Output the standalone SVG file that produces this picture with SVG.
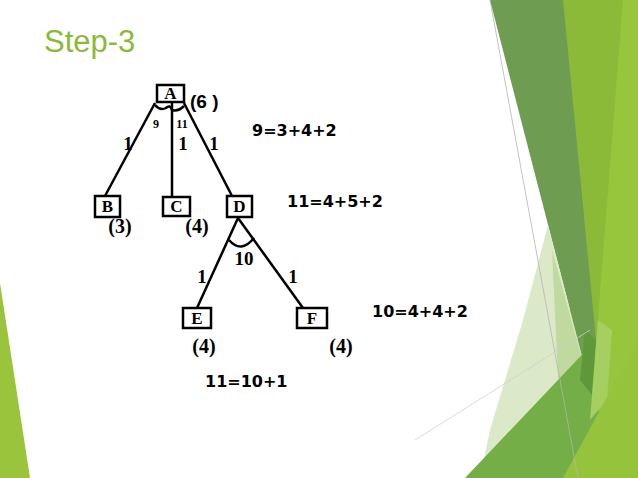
<svg xmlns="http://www.w3.org/2000/svg" width="638" height="478" viewBox="0 0 638 478">
<style>
.box{fill:#fff;stroke:#000;stroke-width:2.5}
.edge{stroke:#000;stroke-width:2.5;fill:none}
.nl{font-family:"Liberation Serif",serif;font-weight:bold;font-size:17px;text-anchor:middle;fill:#000}
.val{font-family:"Liberation Serif",serif;font-weight:bold;font-size:20px;text-anchor:middle;fill:#000}
.el{font-family:"Liberation Serif",serif;font-weight:bold;font-size:19px;text-anchor:middle;fill:#000}
.small{font-family:"Liberation Serif",serif;font-weight:bold;font-size:12px;text-anchor:middle;fill:#000}
.eq{font-family:"DejaVu Sans",sans-serif;font-weight:bold;font-size:16px;fill:#000}
</style>
<rect width="638" height="478" fill="#fff"/>
<g id="background">
<polygon points="0,283 0,478 30,478" fill="#9ac43c"/>
<polygon points="560,0 638,0 638,478 575,478" fill="#8aba37"/>
<polygon points="623,0 638,0 638,478 600,478 597,330" fill="#97c63d"/>
<polygon points="490,0 563,0 596,340 592,395" fill="#6e9c50"/>
<polygon points="548,225 592,395 480,478 490,430 523,320" fill="#dce9c9"/>
<polygon points="552,250 592,395 560,420" fill="#b9d493" opacity="0.8"/>
<polygon points="465,478 594,342 603,478" fill="#73ae46"/>
<polygon points="585,330 596,340 592,395 580,380" fill="#5e9838"/>
<polygon points="598,320 612,330 607,400 590,420" fill="#a6cf62"/>
<polygon points="563,478 638,340 638,478" fill="#95c43c"/>
<line x1="490" y1="0" x2="578" y2="478" stroke="#b4b4b4" stroke-width="0.8"/>
<line x1="415" y1="440" x2="590" y2="330" stroke="#cfcfcf" stroke-width="0.8"/>
</g>
<text x="44" y="52" font-family="Liberation Sans, Arial, sans-serif" font-size="31" fill="#8cb83c">Step-3</text>
<g id="connectors">
<line class="edge" x1="155" y1="103" x2="105" y2="196"/>
<line class="edge" x1="172" y1="102" x2="172" y2="197"/>
<line class="edge" x1="184" y1="103" x2="232" y2="196"/>
<line class="edge" x1="238" y1="218" x2="197" y2="308"/>
<line class="edge" x1="238" y1="218" x2="303" y2="308"/>
<path class="edge" stroke-width="1.8" d="M155,105 Q160,111 166,108 Q170,104 172,110 Q178,112 184,106"/>
<path class="edge" stroke-width="2" d="M229,240 Q241,254 254,238"/>
<text class="small" x="156" y="128">9</text>
<text class="small" x="182" y="128">11</text>
<text class="el" x="128" y="150">1</text>
<text class="el" x="183" y="150">1</text>
<text class="el" x="214" y="150">1</text>
<text class="el" x="244" y="265">10</text>
<text class="el" x="202" y="283">1</text>
<text class="el" x="293" y="283">1</text>
</g>
<g id="node-A">
<rect class="box" x="157" y="85" width="27" height="17"/>
<text class="nl" x="170.5" y="99">A</text>
<text x="190" y="108" font-family="Liberation Sans, Arial, sans-serif" font-weight="bold" font-size="19" fill="#000">(6 )</text>
</g>
<g id="node-B">
<rect class="box" x="95" y="196" width="25" height="21"/>
<text class="nl" x="107.5" y="212">B</text>
<text class="val" x="120" y="233">(3)</text>
</g>
<g id="node-C">
<rect class="box" x="163" y="197" width="27" height="19"/>
<text class="nl" x="176.5" y="212">C</text>
<text class="val" x="197" y="233">(4)</text>
</g>
<g id="node-D">
<rect class="box" x="227" y="196" width="25" height="21"/>
<text class="nl" x="239.5" y="212">D</text>
</g>
<g id="node-E">
<rect class="box" x="183" y="308" width="28" height="20"/>
<text class="nl" x="197" y="324">E</text>
<text class="val" x="204" y="353">(4)</text>
</g>
<g id="node-F">
<rect class="box" x="297" y="308" width="30" height="20"/>
<text class="nl" x="312" y="324">F</text>
<text class="val" x="341" y="353">(4)</text>
</g>
<g id="equations">
<text class="eq" x="252" y="136">9=3+4+2</text>
<text class="eq" x="287" y="207">11=4+5+2</text>
<text class="eq" x="372" y="317">10=4+4+2</text>
<text class="eq" x="205" y="387">11=10+1</text>
</g>
</svg>
